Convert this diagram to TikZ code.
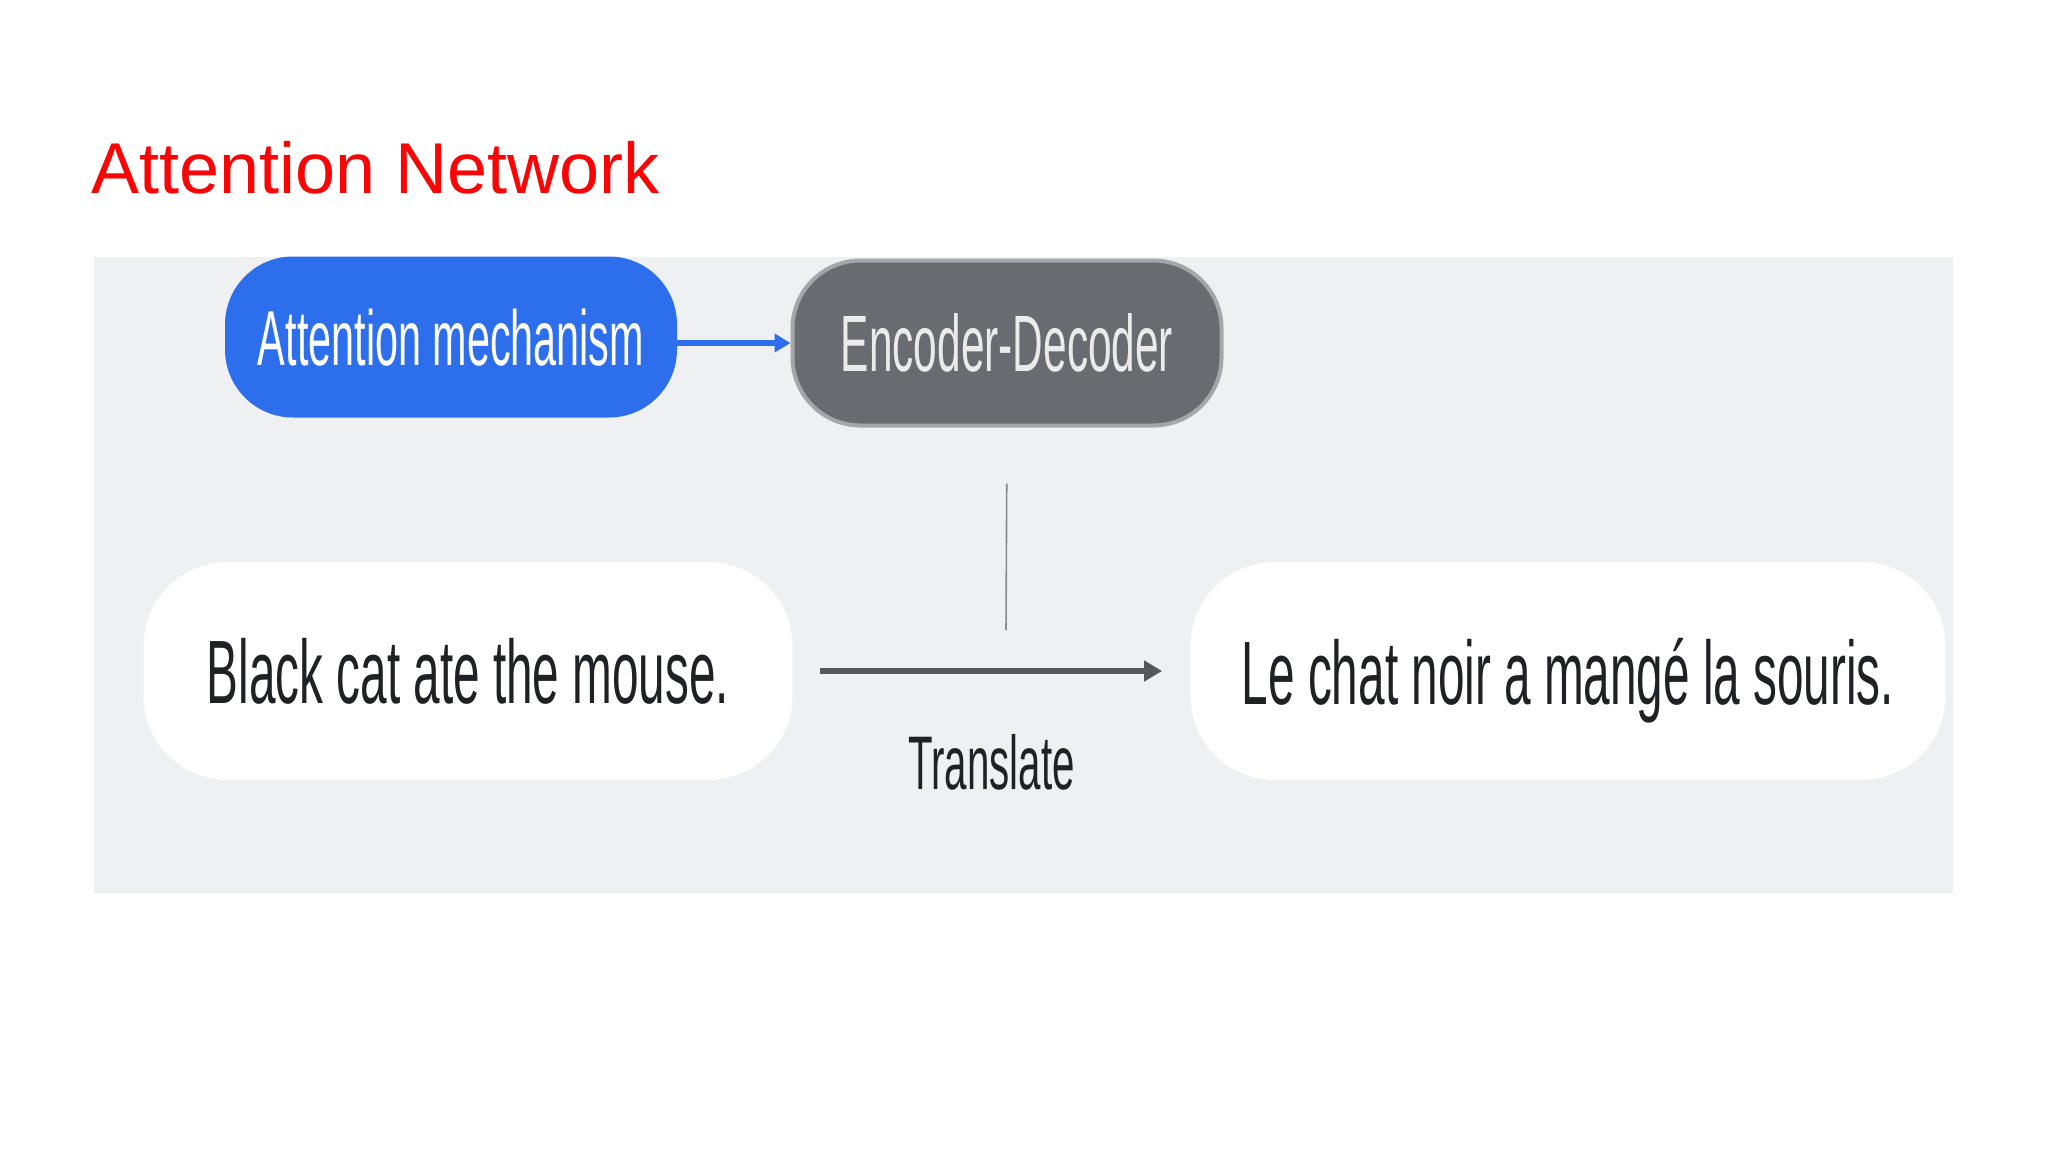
\documentclass[tikz,border=0pt]{standalone}
\usepackage{fontspec}
\setmainfont{Liberation Sans}
\newfontfamily\narrowfont[FakeStretch=0.53]{Liberation Sans}
\usetikzlibrary{positioning,arrows.meta}
\definecolor{titlered}{RGB}{250,5,5}
\definecolor{panelgrey}{RGB}{239,240,242}
\definecolor{attblue}{RGB}{45,110,236}
\definecolor{encgrey}{RGB}{104,107,111}
\definecolor{inktext}{RGB}{32,33,36}
\definecolor{arrowgrey}{RGB}{85,87,90}

\tikzset{
  pill/.style={rounded corners=34pt,inner sep=0pt,text depth=0pt},
  sentence/.style={pill,fill=white,rounded corners=42pt,text=inktext,
    font=\narrowfont\fontsize{45}{48}\selectfont}
}

\begin{document}
\begin{tikzpicture}[x=0.5pt,y=-0.5pt]
\useasboundingbox (0,0) rectangle (2048,1152);
\fill[panelgrey] (94,257) rectangle (1953,893);

\path (84,193) node[anchor=base west,text=titlered,font=\fontsize{36}{40}\selectfont] (title) {Attention Network};

\path (451,337) node[pill,fill=attblue,text=white,minimum width=226pt,minimum height=80.5pt,
  font=\narrowfont\fontsize{39}{42}\selectfont] (att) {Attention mechanism};
\path (1007,343) node[pill,fill=encgrey,draw=encgrey!60,line width=2pt,text=white!92!black,minimum width=214.5pt,
  minimum height=82.5pt,font=\narrowfont\fontsize{40}{44}\selectfont] (enc) {Encoder-Decoder};

\path (468,671) node[sentence,minimum width=324.5pt,minimum height=109pt] (src) {Black cat ate the mouse.};
\path (1568,671) node[sentence,minimum width=377.5pt,minimum height=109pt] (tgt) {Le chat noir a mangé la souris.};

\coordinate (vend) at (1006,630);

\draw[-{Triangle[length=8pt,width=9pt]},attblue,line width=3pt] (enc.west -| att.east) -- (enc.west);
\draw[arrowgrey!70,line width=0.8pt,shorten <=28pt] (enc.south) -- (vend);
\draw[-{Triangle[length=9pt,width=10pt]},arrowgrey,line width=3pt,shorten <=13.5pt,shorten >=14pt]
  (src.east) -- (tgt.west)
  node[midway,yshift=-45.5pt,text=inktext,text depth=0pt,font=\narrowfont\fontsize{38}{40}\selectfont] (lbl) {Translate};
\end{tikzpicture}
\end{document}
